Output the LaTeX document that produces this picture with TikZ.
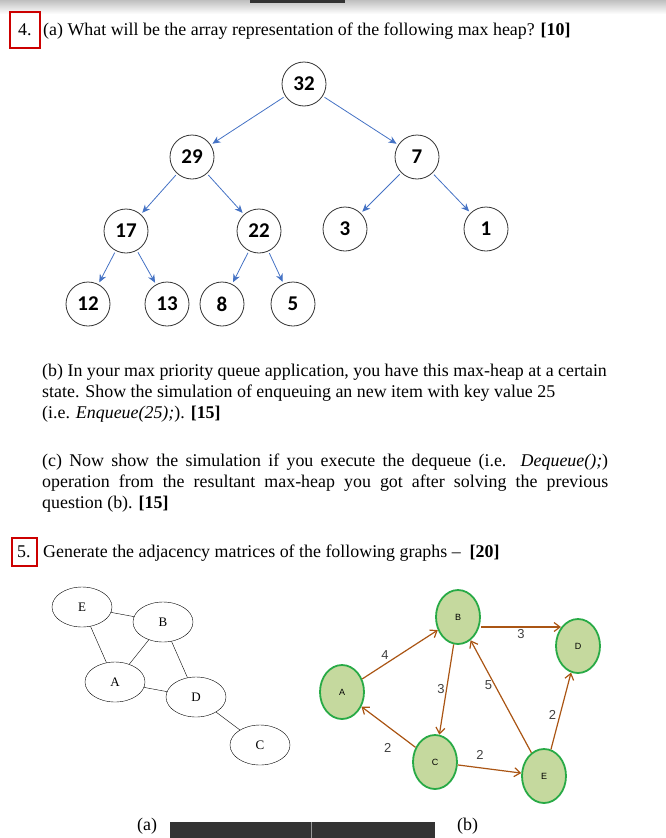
\documentclass[tikz,border=0pt]{standalone}
\usepackage{fontspec}
\setmainfont{Liberation Serif}
\newfontfamily\hf{Carlito}
\newfontfamily\gf{Liberation Sans}
\usetikzlibrary{arrows.meta,shapes.geometric}
\definecolor{hblue}{RGB}{68,114,196}
\definecolor{brn}{RGB}{170,85,20}
\definecolor{gfill}{RGB}{197,217,158}
\definecolor{gline}{RGB}{40,170,70}
\begin{document}
\begin{tikzpicture}[x=1pt,y=-1pt,
  hn/.style={circle,draw=black!80,line width=0.8pt,minimum size=44pt,inner sep=0pt,font=\hf\bfseries\fontsize{21}{21}\selectfont},
  ha/.style={-{Stealth[length=8pt,width=7pt]},hblue,line width=0.8pt,shorten >=2pt,shorten <=2pt},
  an/.style={ellipse,draw,minimum width=60pt,minimum height=40pt,inner sep=0pt,font=\fontsize{13}{13}\selectfont},
  bn/.style={ellipse,draw=gline,fill=gfill,line width=1.8pt,minimum width=44pt,minimum height=54pt,inner sep=0pt,font=\gf\fontsize{9}{9}\selectfont},
  ba/.style={-{Straight Barb[length=6pt,width=9pt]},brn,line width=1.2pt},
  wl/.style={font=\gf\fontsize{13}{13}\selectfont,text=black!75},
  tx/.style={anchor=base west,inner sep=0pt,font=\fontsize{17.9}{20}\selectfont},
  rb/.style={draw=red!80!black,line width=1.6pt}]
\useasboundingbox (0,0) rectangle (666,838);
\shade[top color=black!25,bottom color=white] (0,0) rectangle (666,14);
\fill[black!80] (250,0) rectangle (345,3);
\fill[black!80] (170,822) rectangle (435,838);
\draw[black!40] (311,822) -- (311,838);
% question 4
\draw[rb] (10,12) rectangle (40,48);
\node[tx] (q4n) at (18,35) {4.};
\node[tx] (q4) at (43,35) {(a) What will be the array representation of the following max heap? \textbf{[10]}};
\node[hn] (n32) at (304,84) {32};
\node[hn] (n29) at (192,157) {29};
\node[hn] (n7) at (417,157) {7};
\node[hn] (n17) at (126,231) {17};
\node[hn] (n22) at (259,231) {22};
\node[hn] (n3) at (345,229) {3};
\node[hn] (n1) at (486,229) {1};
\node[hn] (n12) at (88,304) {12};
\node[hn] (n13) at (167,304) {13};
\node[hn] (n8) at (222,304) {8};
\node[hn] (n5) at (293,304) {5};
\draw[ha] (n32) -- (n29); \draw[ha] (n32) -- (n7);
\draw[ha] (n29) -- (n17); \draw[ha] (n29) -- (n22);
\draw[ha] (n7) -- (n3); \draw[ha] (n7) -- (n1);
\draw[ha] (n17) -- (n12); \draw[ha] (n17) -- (n13);
\draw[ha] (n22) -- (n8); \draw[ha] (n22) -- (n5);
\node[tx] (pb1) at (42,376) {(b) In your max priority queue application, you have this max-heap at a certain};
\node[tx] (pb2) at (42,397) {state. Show the simulation of enqueuing an new item with key value 25};
\node[tx] (pb3) at (42,418) {(i.e. \textit{Enqueue(25);}). \textbf{[15]}};
\node[tx] (pc1) at (42,466) {\makebox[566pt][s]{(c) Now show the simulation if you execute the dequeue (i.e. \textit{Dequeue();})}};
\node[tx] (pc2) at (42,487) {\makebox[566pt][s]{operation from the resultant max-heap you got after solving the previous}};
\node[tx] (pc3) at (42,508) {question (b). \textbf{[15]}};
% question 5
\draw[rb] (12,538) rectangle (37,566);
\node[tx] (q5n) at (17,557) {5.};
\node[tx] (q5) at (43,557) {Generate the adjacency matrices of the following graphs -- \ \textbf{[20]}};
% graph a
\node[an] (aE) at (82,607) {E};
\node[an] (aB) at (163,622) {B};
\node[an] (aA) at (115,682) {A};
\node[an] (aD) at (196,697) {D};
\node[an] (aC) at (260,745) {C};
\draw (aE) -- (aB); \draw (aE) -- (aA); \draw (aB) -- (aA);
\draw (aB) -- (aD); \draw (aA) -- (aD); \draw (aD) -- (aC);
\node[tx] (la) at (137,830) {(a)};
% graph b
\node[bn] (bA) at (342,692) {A};
\node[bn] (bB) at (458,617) {B};
\node[bn] (bD) at (578,646) {D};
\node[bn] (bC) at (435,762) {C};
\node[bn] (bE) at (544,776) {E};
\coordinate (bDin) at (561,627);
\draw[ba] (bB.east |- bDin) -- (bDin) node[wl,pos=0.5,below=-2pt] {3};
\draw[ba] (bA) -- (bB) node[wl,pos=0.3,above=1pt] {4};
\draw[ba] (bB) -- (bC) node[wl,pos=0.5,left=-2pt] {3};
\draw[ba] (bE) -- (bB) node[wl,pos=0.6,left=-1pt] {5};
\draw[ba] (bE) -- (bD) node[wl,pos=0.45,left=0pt] {2};
\draw[ba] (bC) -- (bA) node[wl,pos=0.3,below left=4pt] {2};
\draw[ba] (bC) -- (bE) node[wl,pos=0.35,above=4pt] {2};
\node[tx] (lb) at (457,830) {(b)};
\end{tikzpicture}
\end{document}
